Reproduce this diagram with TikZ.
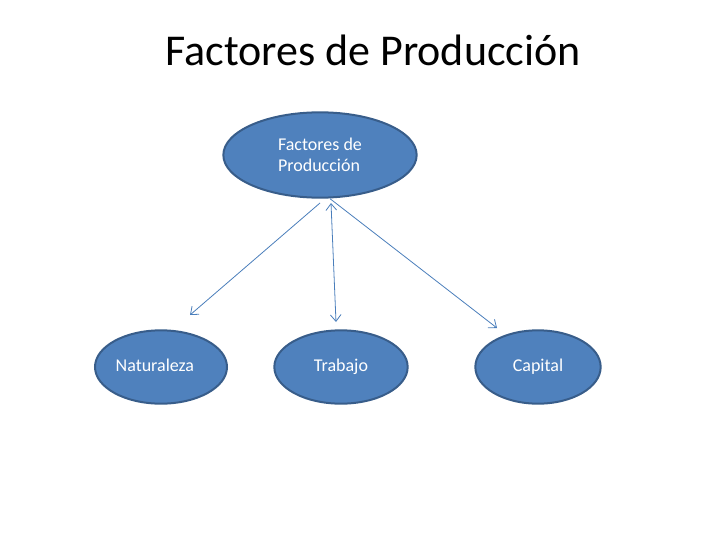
\documentclass[tikz,border=0pt]{standalone}
\usepackage{fontspec}
\setmainfont{Carlito}
\usetikzlibrary{shapes.geometric,arrows.meta}
\definecolor{ovalfill}{RGB}{79,129,189}
\definecolor{ovaledge}{RGB}{56,93,138}
\definecolor{arrowline}{RGB}{74,126,187}
\tikzset{
  oval/.style={ellipse, fill=ovalfill, draw=ovaledge, line width=1.5pt, text=white,
    font=\fontsize{13.5}{16}\selectfont, inner sep=0pt, text height=1.6ex, text depth=0.3ex},
  link/.style={arrowline, line width=0.6pt, -{Straight Barb[length=5pt,width=8pt]}}
}
\begin{document}
\begin{tikzpicture}[x=0.75pt,y=-0.75pt]
\useasboundingbox (0,0) rectangle (728,546);
\node[font=\fontsize{33}{38}\selectfont](title) at (373,50){Factores de Producción};

\node[oval, minimum width=145pt, minimum height=64pt, align=left, text height=, text depth=](top) at (320,155){Factores de\\Producción};
\node[oval, minimum width=99pt, minimum height=55pt, text width=68pt, align=left](nat) at (161,367){Naturaleza};
\node[oval, minimum width=100pt, minimum height=55pt](trab) at (341,367){Trabajo};
\node[oval, minimum width=94pt, minimum height=55pt](cap) at (538,367){Capital};

\coordinate (natend) at (190,315);
\coordinate (trabend) at (336,322);
\coordinate (capend) at (497,328);
\coordinate (trabtop) at (331,203);

\draw[link] (320,203) -- (natend);
\draw[link, {Straight Barb[length=5pt,width=8pt]}-{Straight Barb[length=5pt,width=8pt]}] (trabtop) -- (trabend);
\draw[link] (top.south) ++(10,0) -- (capend);
\end{tikzpicture}
\end{document}
